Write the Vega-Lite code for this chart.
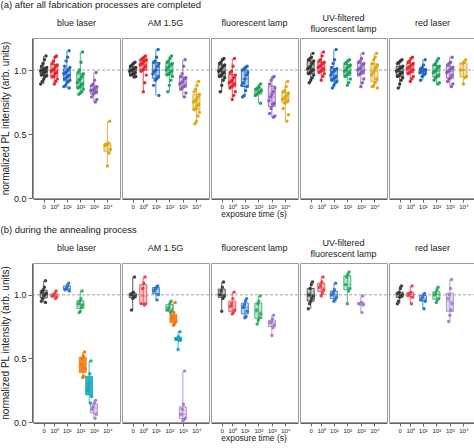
{
  "$schema": "https://vega.github.io/schema/vega-lite/v6.json",
  "padding": {"left": 0, "top": 0, "right": 0, "bottom": 0},
  "config": {
    "font": "Liberation Sans",
    "view": {"stroke": "#9a9a9a", "strokeWidth": 1},
    "axis": {"grid": false, "domainColor": "#666", "tickColor": "#666", "labelColor": "#222", "titleColor": "#222", "titleFontWeight": "normal"},
    "axisX": {"labelOverlap": false, "labelFlush": false, "labelFontSize": 6, "tickSize": 3, "labelPadding": 1},
    "header": {"labelFontSize": 9, "labelColor": "#222", "titleColor": "#222"},
    "title": {"fontSize": 9.5, "fontWeight": "normal", "anchor": "start", "color": "#222"}
  },
  "datasets": {
    "a": [
      {"s": "blue laser", "t": 0, "v": [1.11,1.08,1.05,1.03,1.02,1.01,1.0,1.0,0.99,0.99,0.98,0.97,0.96,0.955,0.95,0.93,0.91,0.89]},
      {"s": "blue laser", "t": 1, "v": [1.11,1.1,1.07,1.05,1.04,1.03,1.01,1.0,0.99,0.98,0.97,0.95,0.945,0.93,0.91,0.89]},
      {"s": "blue laser", "t": 10, "v": [1.15,1.1,1.07,1.03,1.02,1.0,0.99,0.98,0.97,0.96,0.95,0.94,0.93,0.92,0.91,0.9,0.88,0.87,0.86]},
      {"s": "blue laser", "t": 100, "v": [1.14,1.06,1.0,0.98,0.97,0.95,0.93,0.92,0.9,0.89,0.88,0.87,0.86,0.85,0.83,0.82,0.81]},
      {"s": "blue laser", "t": 1000, "v": [0.98,0.92,0.89,0.88,0.87,0.86,0.85,0.84,0.84,0.83,0.82,0.81,0.79,0.77,0.75]},
      {"s": "blue laser", "t": 10000, "v": [0.6,0.43,0.42,0.41,0.38,0.35,0.25]},
      {"s": "AM 1.5G", "t": 0, "v": [1.06,1.05,1.04,1.03,1.02,1.01,1.0,1.0,0.99,0.98,0.97,0.965,0.96,0.95,0.945]},
      {"s": "AM 1.5G", "t": 1, "v": [1.11,1.1,1.09,1.08,1.08,1.07,1.06,1.05,1.04,1.03,1.01,1.0,0.99,0.96,0.9,0.83]},
      {"s": "AM 1.5G", "t": 10, "v": [1.16,1.1,1.07,1.06,1.05,1.03,1.0,0.99,0.97,0.95,0.93,0.92,0.88,0.8]},
      {"s": "AM 1.5G", "t": 100, "v": [1.11,1.09,1.07,1.06,1.05,1.04,1.03,1.02,1.0,0.99,0.98,0.97,0.96,0.95,0.92,0.88,0.83]},
      {"s": "AM 1.5G", "t": 1000, "v": [1.08,1.03,0.97,0.95,0.94,0.93,0.91,0.9,0.89,0.88,0.87,0.86,0.85,0.82,0.79]},
      {"s": "AM 1.5G", "t": 10000, "v": [0.91,0.88,0.85,0.83,0.81,0.79,0.77,0.76,0.75,0.73,0.72,0.7,0.69,0.67,0.64,0.6,0.58]},
      {"s": "fluorescent lamp", "t": 0, "v": [1.09,1.08,1.06,1.05,1.04,1.03,1.01,1.0,0.99,0.98,0.97,0.96,0.95,0.94,0.92,0.88,0.83]},
      {"s": "fluorescent lamp", "t": 1, "v": [1.09,1.03,0.99,0.98,0.96,0.94,0.92,0.91,0.9,0.89,0.88,0.87,0.86,0.83,0.8,0.77]},
      {"s": "fluorescent lamp", "t": 10, "v": [1.03,1.02,1.01,1.0,0.98,0.96,0.93,0.9,0.88,0.87,0.84,0.8,0.79]},
      {"s": "fluorescent lamp", "t": 100, "v": [0.89,0.87,0.86,0.85,0.84,0.83,0.82,0.81,0.8,0.74]},
      {"s": "fluorescent lamp", "t": 1000, "v": [0.95,0.94,0.92,0.89,0.86,0.83,0.81,0.79,0.76,0.74,0.73,0.7,0.66,0.64,0.63]},
      {"s": "fluorescent lamp", "t": 10000, "v": [0.91,0.87,0.84,0.83,0.82,0.8,0.79,0.78,0.77,0.76,0.75,0.74,0.7,0.65,0.6]},
      {"s": "UV-filtered fluorescent lamp", "t": 0, "v": [1.13,1.1,1.09,1.08,1.07,1.05,1.03,1.02,1.01,1.0,0.99,0.98,0.97,0.96,0.94,0.92,0.9]},
      {"s": "UV-filtered fluorescent lamp", "t": 1, "v": [1.14,1.11,1.08,1.07,1.06,1.05,1.04,1.03,1.02,1.01,1.0,0.99,0.98,0.97,0.95,0.92]},
      {"s": "UV-filtered fluorescent lamp", "t": 10, "v": [1.16,1.08,1.05,1.02,1.01,1.0,0.99,0.98,0.96,0.95,0.94,0.93,0.92,0.91,0.9,0.88,0.86]},
      {"s": "UV-filtered fluorescent lamp", "t": 100, "v": [1.08,1.07,1.06,1.05,1.04,1.03,1.02,1.0,0.99,0.98,0.97,0.96,0.95,0.93,0.9,0.88]},
      {"s": "UV-filtered fluorescent lamp", "t": 1000, "v": [1.13,1.09,1.07,1.06,1.05,1.04,1.02,1.01,1.0,0.99,0.98,0.97,0.96,0.93,0.9,0.87]},
      {"s": "UV-filtered fluorescent lamp", "t": 10000, "v": [1.13,1.1,1.08,1.05,1.04,1.02,1.0,0.98,0.96,0.93,0.9,0.88,0.87,0.86]},
      {"s": "red laser", "t": 0, "v": [1.08,1.07,1.06,1.05,1.03,1.02,1.01,1.0,0.99,0.98,0.97,0.96,0.95,0.94,0.92,0.89,0.86]},
      {"s": "red laser", "t": 1, "v": [1.1,1.09,1.07,1.06,1.05,1.04,1.03,1.02,1.01,1.0,0.99,0.98,0.97,0.95,0.93,0.91]},
      {"s": "red laser", "t": 10, "v": [1.08,1.04,1.02,1.01,1.0,1.0,0.99,0.99,0.98,0.97,0.96,0.95,0.92]},
      {"s": "red laser", "t": 100, "v": [1.09,1.07,1.05,1.04,1.03,1.02,1.0,0.99,0.98,0.96,0.95,0.94,0.92,0.9,0.89]},
      {"s": "red laser", "t": 1000, "v": [1.1,1.06,1.05,1.04,1.02,1.01,1.0,0.99,0.98,0.96,0.94,0.93,0.91,0.89,0.87]},
      {"s": "red laser", "t": 10000, "v": [1.08,1.06,1.05,1.0,0.95,0.94,0.89]}
    ],
    "b": [
      {"s": "blue laser", "t": 0, "v": [1.11,1.06,1.04,1.02,1.01,1.0,0.99,0.97,0.95,0.94]},
      {"s": "blue laser", "t": 1, "v": [1.03,1.01,1.0,0.99,0.98,0.97]},
      {"s": "blue laser", "t": 10, "v": [1.09,1.07,1.05,1.04,1.03]},
      {"s": "blue laser", "t": 100, "v": [1.03,0.97,0.95,0.93,0.92,0.9,0.87,0.86]},
      {"s": "blue laser", "t": 150, "v": [0.55,0.52,0.5,0.45,0.42,0.36,0.35]},
      {"s": "blue laser", "t": 450, "v": [0.48,0.38,0.3,0.25,0.2,0.15]},
      {"s": "blue laser", "t": 1000, "v": [0.17,0.15,0.12,0.1,0.06,0.03]},
      {"s": "AM 1.5G", "t": 0, "v": [1.14,1.02,1.01,1.0,0.99,0.98,0.97,0.88]},
      {"s": "AM 1.5G", "t": 1, "v": [1.14,1.09,1.05,0.93,0.93,0.92]},
      {"s": "AM 1.5G", "t": 10, "v": [1.07,1.06,1.05,1.03,1.0,0.96]},
      {"s": "AM 1.5G", "t": 100, "v": [0.95,0.93,0.9,0.88,0.87,0.86]},
      {"s": "AM 1.5G", "t": 200, "v": [0.94,0.86,0.83,0.81,0.79,0.77,0.76]},
      {"s": "AM 1.5G", "t": 450, "v": [0.71,0.67,0.66,0.65,0.645,0.64,0.57]},
      {"s": "AM 1.5G", "t": 1000, "v": [0.4,0.14,0.1,0.06,0.03,0.02,0.01]},
      {"s": "fluorescent lamp", "t": 0, "v": [1.1,1.06,1.03,1.0,0.99,0.97,0.87]},
      {"s": "fluorescent lamp", "t": 1, "v": [1.02,0.97,0.93,0.91,0.88,0.86,0.85]},
      {"s": "fluorescent lamp", "t": 10, "v": [0.97,0.95,0.92,0.9,0.87,0.83,0.82]},
      {"s": "fluorescent lamp", "t": 100, "v": [0.99,0.95,0.93,0.88,0.85,0.82,0.8,0.77]},
      {"s": "fluorescent lamp", "t": 1000, "v": [0.84,0.81,0.79,0.78,0.76,0.74,0.68]},
      {"s": "UV-filtered fluorescent lamp", "t": 0, "v": [1.1,1.08,1.05,1.0,0.99,0.97,0.95,0.93,0.89]},
      {"s": "UV-filtered fluorescent lamp", "t": 1, "v": [1.14,1.1,1.08,1.06,1.04,1.01,0.99]},
      {"s": "UV-filtered fluorescent lamp", "t": 10, "v": [1.09,1.04,1.02,1.0,0.98,0.96,0.95]},
      {"s": "UV-filtered fluorescent lamp", "t": 100, "v": [1.18,1.16,1.14,1.08,1.05,1.03,0.93]},
      {"s": "UV-filtered fluorescent lamp", "t": 1000, "v": [0.99,0.94,0.93,0.93,0.92,0.86]},
      {"s": "red laser", "t": 0, "v": [1.07,1.05,1.02,1.01,1.0,0.99,0.98,0.95,0.93]},
      {"s": "red laser", "t": 1, "v": [1.07,1.02,1.01,1.0,0.98,0.93]},
      {"s": "red laser", "t": 10, "v": [1.01,1.0,0.98,0.96,0.95,0.89]},
      {"s": "red laser", "t": 100, "v": [1.06,1.04,1.01,1.0,0.97,0.96,0.94]},
      {"s": "red laser", "t": 1000, "v": [1.12,1.05,1.0,0.97,0.93,0.88,0.84,0.79]}
    ]
  },
  "resolve": {"scale": {"color": "independent"}},
  "spacing": 6,
  "vconcat": [
    {
      "title": {"text": "(a) after all fabrication processes are completed", "frame": "bounds", "offset": 4},
      "data": {"name": "a"},
      "transform": [
        {"flatten": ["v"]},
        {"window": [{"op": "row_number", "as": "r"}], "groupby": ["s", "t"]}
      ],
      "spacing": 0,
      "facet": {
        "column": {
          "field": "s", "type": "nominal",
          "sort": ["blue laser", "AM 1.5G", "fluorescent lamp", "UV-filtered fluorescent lamp", "red laser"],
          "title": "exposure time (s)",
          "header": {
            "titleOrient": "bottom", "labelOrient": "top",
            "titleFontSize": 8.5, "titleFontWeight": "normal", "titlePadding": -9,
            "labelExpr": "datum.value == 'UV-filtered fluorescent lamp' ? ['UV-filtered', '\u200b', 'fluorescent lamp'] : [datum.value, '\u200b']",
            "labelLineHeight": 5.75, "labelPadding": 3
          }
        }
      },
      "spec": {
        "width": 87,
        "height": 160,
        "layer": [
          {
            "transform": [{"aggregate": [{"op": "count", "as": "n"}], "groupby": ["s"]}],
            "mark": {"type": "rule", "strokeDash": [3, 2], "color": "#8a8a8a", "strokeWidth": 0.8},
            "encoding": {"y": {"datum": 1, "type": "quantitative", "scale": {"domain": [0, 1.25], "nice": false, "zero": false}, "title": "normalized PL intensity (arb. units)"}}
          },
          {
            "transform": [{"aggregate": [
              {"op": "min", "field": "v", "as": "lo"},
              {"op": "max", "field": "v", "as": "hi"},
              {"op": "q1", "field": "v", "as": "q1"},
              {"op": "q3", "field": "v", "as": "q3"},
              {"op": "median", "field": "v", "as": "md"}
            ], "groupby": ["s", "t"]}],
            "encoding": {
              "x": {"field": "t", "type": "quantitative", "scale": {"type": "symlog", "constant": 0.2, "domain": [-0.33, 36300], "nice": false}, "title": null,
                "axis": {"values": [0, 1, 10, 100, 1000, 10000], "labelExpr": "datum.value == 0 ? '0' : datum.value == 1 ? '10⁰' : datum.value == 10 ? '10¹' : datum.value == 100 ? '10²' : datum.value == 1000 ? '10³' : '10⁴'"}},
              "color": {"field": "t", "type": "nominal", "legend": null, "scale": {"domain": [0, 1, 10, 100, 1000, 10000], "range": ["#333333", "#e02530", "#1f64c0", "#1f9e5c", "#8a5cb8", "#d9a514"]}}
            },
            "layer": [
              {"mark": {"type": "rule", "strokeWidth": 0.8},
               "encoding": {"y": {"field": "lo", "type": "quantitative", "scale": {"domain": [0, 1.25], "nice": false, "zero": false}, "title": "normalized PL intensity (arb. units)"}, "y2": {"field": "hi"}}},
              {"mark": {"type": "bar", "size": 7, "fillOpacity": 0.32, "strokeWidth": 0},
               "encoding": {"y": {"field": "q1", "type": "quantitative", "title": "normalized PL intensity (arb. units)"}, "y2": {"field": "q3"}}},
              {"mark": {"type": "bar", "size": 7, "filled": false, "strokeWidth": 0.8},
               "encoding": {"y": {"field": "q1", "type": "quantitative", "title": "normalized PL intensity (arb. units)"}, "y2": {"field": "q3"}}},
              {"mark": {"type": "tick", "orient": "horizontal", "size": 7, "thickness": 0.8},
               "encoding": {"y": {"field": "md", "type": "quantitative", "title": "normalized PL intensity (arb. units)"}}}
            ]
          },
          {
            "mark": {"type": "point", "filled": true, "size": 12, "opacity": 0.95, "xOffset": {"expr": "((datum.r * 7) % 9 - 4) * 0.75"}},
            "encoding": {
              "x": {"field": "t", "type": "quantitative", "scale": {"type": "symlog", "constant": 0.2, "domain": [-0.33, 36300], "nice": false}, "title": null,
                "axis": {"values": [0, 1, 10, 100, 1000, 10000], "labelExpr": "datum.value == 0 ? '0' : datum.value == 1 ? '10⁰' : datum.value == 10 ? '10¹' : datum.value == 100 ? '10²' : datum.value == 1000 ? '10³' : '10⁴'"}},
              "y": {"field": "v", "type": "quantitative", "scale": {"domain": [0, 1.25], "nice": false, "zero": false}, "title": "normalized PL intensity (arb. units)",
                "axis": {"values": [0, 0.25, 0.5, 0.75, 1], "labelExpr": "datum.value % 0.5 == 0 ? format(datum.value, '.1f') : ''", "titleFontSize": 10, "labelFontSize": 9, "tickSize": 4, "titlePadding": 3, "labelPadding": 2}},
              "color": {"field": "t", "type": "nominal", "legend": null}
            }
          }
        ]
      }
    },
    {
      "title": {"text": "(b) during the annealing process", "frame": "bounds", "offset": 4},
      "data": {"name": "b"},
      "transform": [
        {"flatten": ["v"]},
        {"window": [{"op": "row_number", "as": "r"}], "groupby": ["s", "t"]}
      ],
      "spacing": 0,
      "facet": {
        "column": {
          "field": "s", "type": "nominal",
          "sort": ["blue laser", "AM 1.5G", "fluorescent lamp", "UV-filtered fluorescent lamp", "red laser"],
          "title": "exposure time (s)",
          "header": {
            "titleOrient": "bottom", "labelOrient": "top",
            "titleFontSize": 8.5, "titleFontWeight": "normal", "titlePadding": -9,
            "labelExpr": "datum.value == 'UV-filtered fluorescent lamp' ? ['UV-filtered', '\u200b', 'fluorescent lamp'] : [datum.value, '\u200b']",
            "labelLineHeight": 5.75, "labelPadding": 3
          }
        }
      },
      "spec": {
        "width": 87,
        "height": 159,
        "layer": [
          {
            "transform": [{"aggregate": [{"op": "count", "as": "n"}], "groupby": ["s"]}],
            "mark": {"type": "rule", "strokeDash": [3, 2], "color": "#8a8a8a", "strokeWidth": 0.8},
            "encoding": {"y": {"datum": 1, "type": "quantitative", "scale": {"domain": [0, 1.25], "nice": false, "zero": false}, "title": "normalized PL intensity (arb. units)"}}
          },
          {
            "transform": [{"aggregate": [
              {"op": "min", "field": "v", "as": "lo"},
              {"op": "max", "field": "v", "as": "hi"},
              {"op": "q1", "field": "v", "as": "q1"},
              {"op": "q3", "field": "v", "as": "q3"},
              {"op": "median", "field": "v", "as": "md"}
            ], "groupby": ["s", "t"]}],
            "encoding": {
              "x": {"field": "t", "type": "quantitative", "scale": {"type": "symlog", "constant": 0.2, "domain": [-0.33, 36300], "nice": false}, "title": null,
                "axis": {"values": [0, 1, 10, 100, 1000, 10000], "labelExpr": "datum.value == 0 ? '0' : datum.value == 1 ? '10⁰' : datum.value == 10 ? '10¹' : datum.value == 100 ? '10²' : datum.value == 1000 ? '10³' : '10⁴'"}},
              "color": {"field": "t", "type": "nominal", "legend": null, "scale": {"domain": [0, 1, 10, 100, 150, 200, 450, 1000], "range": ["#3a3a3a", "#e8404a", "#2a70c8", "#2fa866", "#f07810", "#f07810", "#14a5b5", "#a47cc8"]}}
            },
            "layer": [
              {"mark": {"type": "rule", "strokeWidth": 0.8},
               "encoding": {"y": {"field": "lo", "type": "quantitative", "scale": {"domain": [0, 1.25], "nice": false, "zero": false}, "title": "normalized PL intensity (arb. units)"}, "y2": {"field": "hi"}}},
              {"mark": {"type": "bar", "size": 7, "strokeWidth": 0},
               "encoding": {"y": {"field": "q1", "type": "quantitative", "title": "normalized PL intensity (arb. units)"}, "y2": {"field": "q3"},
                 "fillOpacity": {"condition": {"test": "datum.t == 150 || datum.t == 200 || datum.t == 450", "value": 0.85}, "value": 0.3}}},
              {"mark": {"type": "bar", "size": 7, "filled": false, "strokeWidth": 0.8},
               "encoding": {"y": {"field": "q1", "type": "quantitative", "title": "normalized PL intensity (arb. units)"}, "y2": {"field": "q3"}}},
              {"mark": {"type": "tick", "orient": "horizontal", "size": 7, "thickness": 0.8},
               "encoding": {"y": {"field": "md", "type": "quantitative", "title": "normalized PL intensity (arb. units)"}}}
            ]
          },
          {
            "mark": {"type": "point", "filled": true, "size": 12, "opacity": 0.95, "xOffset": {"expr": "((datum.r * 7) % 9 - 4) * 0.6"}},
            "encoding": {
              "x": {"field": "t", "type": "quantitative", "scale": {"type": "symlog", "constant": 0.2, "domain": [-0.33, 36300], "nice": false}, "title": null,
                "axis": {"values": [0, 1, 10, 100, 1000, 10000], "labelExpr": "datum.value == 0 ? '0' : datum.value == 1 ? '10⁰' : datum.value == 10 ? '10¹' : datum.value == 100 ? '10²' : datum.value == 1000 ? '10³' : '10⁴'"}},
              "y": {"field": "v", "type": "quantitative", "scale": {"domain": [0, 1.25], "nice": false, "zero": false}, "title": "normalized PL intensity (arb. units)",
                "axis": {"values": [0, 0.25, 0.5, 0.75, 1], "labelExpr": "datum.value % 0.5 == 0 ? format(datum.value, '.1f') : ''", "titleFontSize": 10, "labelFontSize": 9, "tickSize": 4, "titlePadding": 3, "labelPadding": 2}},
              "color": {"field": "t", "type": "nominal", "legend": null}
            }
          }
        ]
      }
    }
  ]
}
